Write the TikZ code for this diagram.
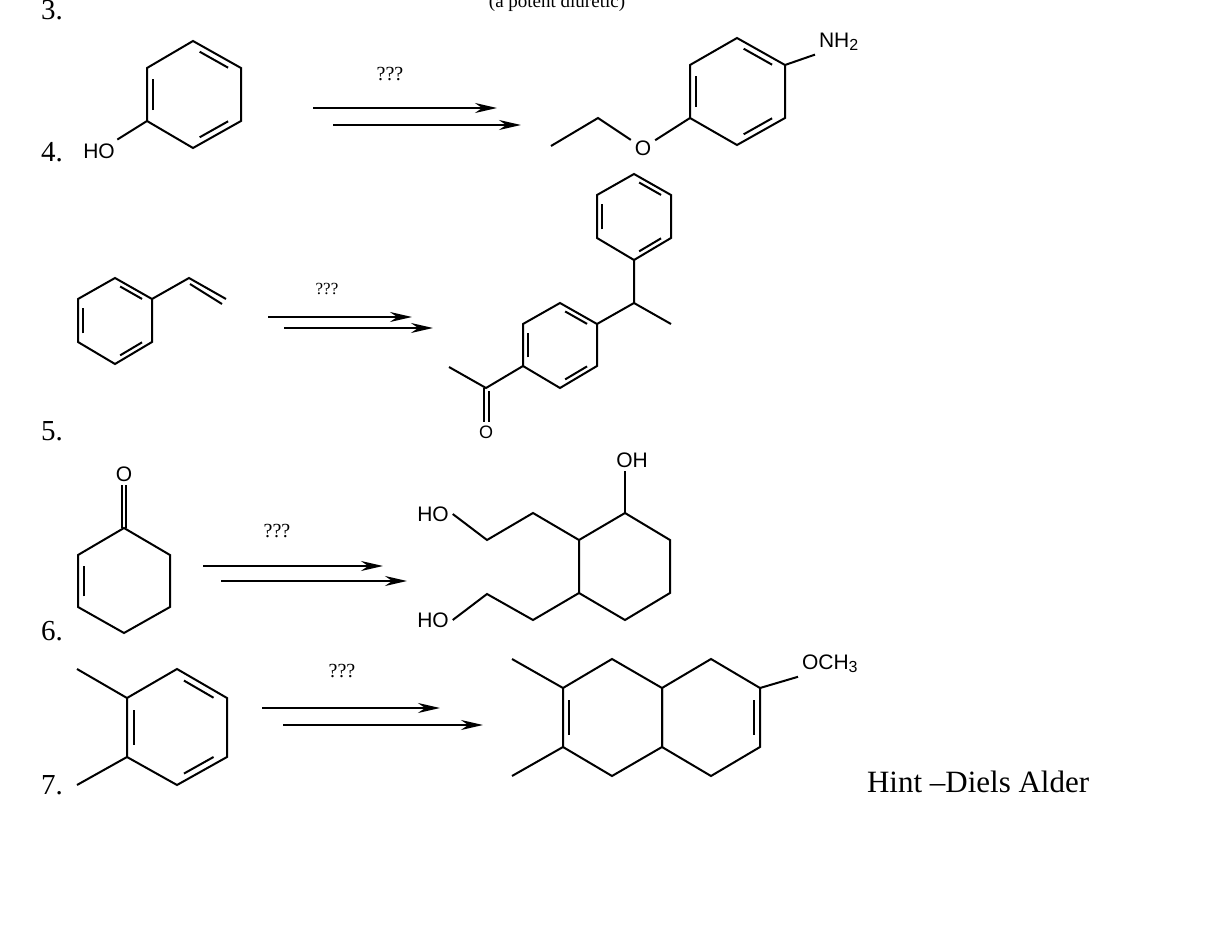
\documentclass[tikz,border=0pt]{standalone}
\usepackage{fontspec}
\setmainfont{Liberation Serif}
\newfontfamily\chemf{Liberation Sans}
\usetikzlibrary{calc,arrows.meta}
\newcommand\dbond[3]{\draw ($($(#1)!0.16!(#2)$)!0.13!(#3)$) -- ($($(#2)!0.16!(#1)$)!0.13!(#3)$);}
\newcommand\ringsix[7]{% name, 6 coords
  \coordinate (#1a) at #2; \coordinate (#1b) at #3; \coordinate (#1c) at #4;
  \coordinate (#1d) at #5; \coordinate (#1e) at #6; \coordinate (#1f) at #7;
  \coordinate (#1o) at ($(#1a)!0.5!(#1d)$);
  \draw (#1a)--(#1b)--(#1c)--(#1d)--(#1e)--(#1f)--cycle;}
\newcommand\sbs[1]{\raisebox{-0.25ex}{\fontsize{8}{9}\selectfont #1}}
\begin{document}
\begin{tikzpicture}[x=0.5pt,y=-0.5pt,line width=1pt,
  atom/.style={font=\chemf\fontsize{10.5}{12}\selectfont,inner sep=1.5pt},
  num/.style={font=\fontsize{14.5}{16}\selectfont,anchor=base west,inner sep=0},
  qq/.style={font=\fontsize{10}{12}\selectfont},
  rxn/.style={-{Stealth[length=11pt,width=5pt]},line width=1pt}]
\useasboundingbox (0,0) rectangle (1216,936);
% labels
\node[num] (n3) at (40,20) {3.};
\node[font=\fontsize{9.5}{11}\selectfont,anchor=base] (dia) at (557,8) {(a potent diuretic)};
\node[num] (n4) at (40,162) {4.};
\node[num] (n5) at (40,440) {5.};
\node[num] (n6) at (40,640) {6.};
\node[num] (n7) at (40,794) {7.};
\node[font=\fontsize{15.5}{17}\selectfont,anchor=base west,inner sep=0] (hint) at (866,792) {Hint --Diels Alder};

% ---------- row 4 ----------
\ringsix{p}{(193,41)}{(241,68)}{(241,121)}{(193,148)}{(147,121)}{(147,68)}
\dbond{pe}{pf}{po}\dbond{pa}{pb}{po}\dbond{pc}{pd}{po}
\node[atom] (ho4) at (99,151) {HO};
\draw (pe) -- (ho4);
\coordinate (a4s) at (313,108); \coordinate (a4e) at (497,108);
\coordinate (b4s) at (333,125); \coordinate (b4e) at (521,125);
\draw[rxn] (a4s) -- (a4e); \draw[rxn] (b4s) -- (b4e);
\node[qq] (q4) at (390,74) {???};
\ringsix{q}{(737,38)}{(785,65)}{(785,118)}{(737,145)}{(690,118)}{(690,65)}
\dbond{qa}{qb}{qo}\dbond{qc}{qd}{qo}\dbond{qe}{qf}{qo}
\node[atom,anchor=west] (nh2) at (815,42) {NH\sbs{2}};
\draw (qb) -- (nh2.south west);
\node[atom] (o4) at (643,148) {O};
\coordinate (et1) at (598,118); \coordinate (et2) at (551,146);
\draw (qe) -- (o4); \draw (o4) -- (et1) -- (et2);

% ---------- row 5 ----------
\ringsix{s}{(115,278)}{(152,299)}{(152,342)}{(115,364)}{(78,342)}{(78,299)}
\dbond{sa}{sb}{so}\dbond{sc}{sd}{so}\dbond{se}{sf}{so}
\coordinate (v1) at (189,278); \coordinate (v2) at (226,299);
\draw (sb) -- (v1) -- (v2);
\draw ($(v1)+(1,6)$) -- ($(v2)+(-4,5)$);
\coordinate (a5s) at (268,317); \coordinate (a5e) at (412,317);
\coordinate (b5s) at (284,328); \coordinate (b5e) at (433,328);
\draw[rxn] (a5s) -- (a5e); \draw[rxn] (b5s) -- (b5e);
\node[qq,font=\fontsize{8.5}{10}\selectfont] (q5) at (327,289) {???};
\ringsix{u}{(634,174)}{(671,195)}{(671,238)}{(634,260)}{(597,238)}{(597,195)}
\dbond{ue}{uf}{uo}\dbond{ua}{ub}{uo}\dbond{uc}{ud}{uo}
\coordinate (ch) at (634,303); \coordinate (chm) at (671,324);
\draw (ud) -- (ch) -- (chm);
\ringsix{w}{(560,303)}{(597,324)}{(597,366)}{(560,388)}{(523,366)}{(523,324)}
\dbond{we}{wf}{wo}\dbond{wa}{wb}{wo}\dbond{wc}{wd}{wo}
\draw (wb) -- (ch);
\coordinate (ac) at (486,388); \coordinate (acm) at (449,367);
\node[atom,font=\chemf\fontsize{9}{10}\selectfont] (o5) at (486,432) {O};
\draw (we) -- (ac) -- (acm);
\draw ($(ac)+(-2,0)$) -- ($(o5.north)+(-2,0)$);
\draw ($(ac)+(2.5,3)$) -- ($(o5.north)+(2.5,0)$);

% ---------- row 6 ----------
\ringsix{k}{(124,528)}{(170,555)}{(170,607)}{(124,633)}{(78,607)}{(78,555)}
\dbond{ke}{kf}{ko}
\node[atom] (o6) at (124,474) {O};
\draw ($(ka)+(-2,0)$) -- ($(o6.south)+(-2,0)$);
\draw ($(ka)+(2,0)$) -- ($(o6.south)+(2,0)$);
\coordinate (a6s) at (203,566); \coordinate (a6e) at (383,566);
\coordinate (b6s) at (221,581); \coordinate (b6e) at (407,581);
\draw[rxn] (a6s) -- (a6e); \draw[rxn] (b6s) -- (b6e);
\node[qq] (q6) at (277,531) {???};
\ringsix{h}{(625,513)}{(670,540)}{(670,593)}{(625,620)}{(579,593)}{(579,540)}
\node[atom] (oh6) at (632,460) {OH};
\draw (ha) -- ($(ha)+(0,-42)$);
\coordinate (c1) at (533,513); \coordinate (c2) at (487,540);
\coordinate (c3) at (533,620); \coordinate (c4) at (487,594);
\node[atom] (ho6a) at (433,514) {HO};
\node[atom] (ho6b) at (433,620) {HO};
\draw (hf) -- (c1) -- (c2) -- (ho6a.east);
\draw (he) -- (c3) -- (c4) -- (ho6b.east);

% ---------- row 7 ----------
\ringsix{x}{(177,669)}{(227,698)}{(227,757)}{(177,785)}{(127,757)}{(127,698)}
\dbond{xe}{xf}{xo}\dbond{xa}{xb}{xo}\dbond{xc}{xd}{xo}
\coordinate (xm1) at (77,669); \coordinate (xm2) at (77,785);
\draw (xf) -- (xm1); \draw (xe) -- (xm2);
\coordinate (a7s) at (262,708); \coordinate (a7e) at (440,708);
\coordinate (b7s) at (283,725); \coordinate (b7e) at (483,725);
\draw[rxn] (a7s) -- (a7e); \draw[rxn] (b7s) -- (b7e);
\node[qq] (q7) at (342,671) {???};
\ringsix{l}{(612,659)}{(662,688)}{(662,747)}{(612,776)}{(563,747)}{(563,688)}
\ringsix{r}{(711,659)}{(760,688)}{(760,747)}{(711,776)}{(662,747)}{(662,688)}
\dbond{le}{lf}{lo}\dbond{rb}{rc}{ro}
\coordinate (lm1) at (512,659); \coordinate (lm2) at (512,776);
\draw (lf) -- (lm1); \draw (le) -- (lm2);
\node[atom,anchor=west] (och3) at (798,664) {OCH\sbs{3}};
\draw (rb) -- (och3.south west);
\end{tikzpicture}
\end{document}
